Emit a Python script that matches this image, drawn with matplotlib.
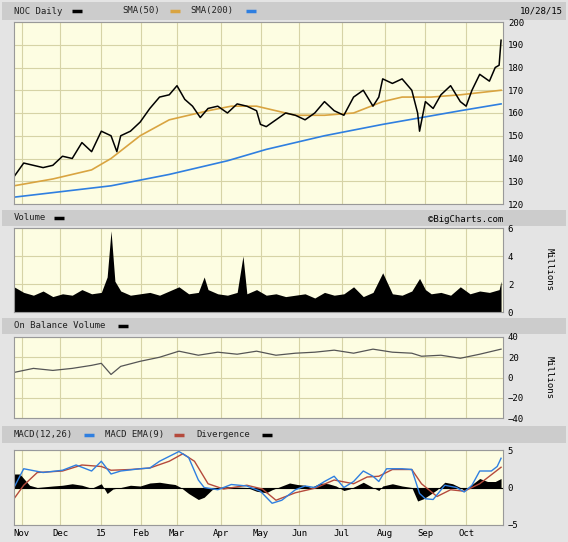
import numpy as np
import matplotlib
matplotlib.use("Agg")
import matplotlib.pyplot as plt

# ── data (x = trading-day index, Oct 29 2014 .. Oct 28 2015) ────────────────
month_pos    = [4, 23.7, 45, 65.5, 84, 106.7, 127.3, 147, 169, 191, 212, 233]
month_labels = ["Nov", "Dec", "15", "Feb", "Mar", "Apr", "May", "Jun", "Jul", "Aug", "Sep", "Oct"]

price_x = [0, 5, 10, 15, 20, 25, 30, 35, 40, 45, 50, 53, 55, 60, 65, 70, 75, 80, 84, 88,
           92, 96, 100, 105, 110, 115, 120, 125, 127, 130, 135, 140, 145, 150, 155, 160,
           165, 170, 175, 180, 185, 188, 190, 195, 200, 205, 208, 209, 212, 216, 220, 225,
           230, 233, 236, 240, 245, 248, 250, 251]
price_y = [132, 138, 137, 136, 137, 141, 140, 147, 143, 152, 150, 143, 150, 152, 156, 162,
           167, 168, 172, 166, 163, 158, 162, 163, 160, 164, 163, 161, 155, 154, 157, 160,
           159, 157, 160, 165, 161, 159, 167, 170, 163, 167, 175, 173, 175, 170, 160, 152,
           165, 162, 168, 172, 165, 163, 170, 177, 174, 180, 181, 192]

sma50_x = [0, 20, 40, 50, 65, 80, 90, 100, 112, 125, 135, 145, 160, 175, 190, 200, 215, 230, 251]
sma50_y = [128, 131, 135, 140, 150, 157, 159, 161, 163, 163, 161, 159, 159, 160, 165, 167, 167, 168, 170]
sma200_x = [0, 50, 80, 110, 130, 160, 190, 210, 230, 251]
sma200_y = [123, 128, 133, 139, 144, 150, 155, 158, 161, 164]

vol_x = [0, 5, 10, 15, 20, 25, 30, 35, 40, 45, 48, 50, 52, 55, 60, 65, 70, 75, 80, 85, 90,
         95, 98, 100, 105, 110, 115, 118, 120, 125, 130, 135, 140, 145, 150, 155, 160, 165,
         170, 175, 180, 185, 190, 195, 200, 205, 209, 212, 215, 220, 225, 230, 235, 240, 245, 250, 251]
vol_y = [1.8, 1.4, 1.2, 1.5, 1.1, 1.3, 1.2, 1.6, 1.3, 1.4, 2.5, 5.8, 2.2, 1.5, 1.2, 1.3, 1.4,
         1.2, 1.5, 1.8, 1.3, 1.4, 2.5, 1.6, 1.3, 1.2, 1.4, 4.0, 1.3, 1.6, 1.2, 1.3, 1.1, 1.2,
         1.3, 1.0, 1.4, 1.2, 1.3, 1.8, 1.1, 1.4, 2.8, 1.3, 1.2, 1.5, 2.4, 1.6, 1.3, 1.4, 1.2,
         1.8, 1.3, 1.5, 1.4, 1.6, 2.2]

obv_x = [0, 10, 20, 30, 40, 45, 50, 55, 65, 75, 85, 95, 105, 115, 125, 135, 145, 155, 165,
         175, 185, 195, 205, 210, 220, 230, 240, 251]
obv_y = [5, 9, 7, 9, 12, 14, 3, 11, 16, 20, 26, 22, 25, 23, 26, 22, 24, 25, 27, 24, 28, 25,
         24, 21, 22, 19, 23, 28]

macd_x = [0, 5, 15, 25, 32, 40, 45, 50, 55, 65, 70, 75, 85, 90, 95, 98, 105, 112, 120, 127,
          133, 138, 145, 150, 155, 160, 165, 170, 175, 180, 185, 188, 192, 200, 205, 209, 212,
          216, 222, 228, 232, 236, 240, 246, 249, 251]
macd_y = [0, 2.5, 2, 2.3, 3, 2.2, 3.5, 1.8, 2.2, 2.5, 2.6, 3.5, 4.8, 4, 1, 0, -0.3, 0.4, 0.2,
          -0.5, -2.1, -1.7, -0.3, 0.2, 0, 0.8, 1.5, 0, 0.8, 2.2, 1.5, 0.8, 2.5, 2.5, 2.4, -0.8,
          -1.5, -1.6, 0.3, 0, -0.6, 0.3, 2.2, 2.2, 2.8, 3.9]
ema_x = [0, 5, 12, 25, 35, 45, 50, 60, 70, 80, 87, 93, 100, 108, 120, 128, 135, 145, 155, 165,
         175, 182, 188, 195, 205, 210, 218, 225, 232, 240, 251]
ema_y = [-1.5, 0.3, 2, 2.2, 3, 2.8, 2.3, 2.4, 2.6, 3.5, 4.5, 3.5, 0.5, -0.2, 0.3, -0.2, -1.7,
         -0.7, -0.1, 1, 0.5, 1.4, 1.5, 2.4, 2.4, 0.5, -1.2, -0.3, -0.5, 0.5, 2.7]
div_x = [0, 3, 8, 12, 20, 25, 30, 35, 40, 45, 48, 51, 55, 60, 65, 70, 75, 80, 83, 86, 90, 95,
         98, 102, 105, 110, 120, 125, 130, 133, 137, 142, 146, 150, 153, 158, 162, 166, 170,
         173, 177, 180, 185, 188, 190, 195, 200, 205, 208, 211, 214, 218, 222, 226, 230, 232,
         236, 240, 244, 248, 251]
div_y = [1.8, 1.8, 0.3, 0, 0.2, 0.3, 0.5, 0.3, -0.1, 0.5, -0.8, -0.2, 0, 0.3, 0.2, 0.6, 0.7,
         0.5, 0.4, 0, -0.8, -1.6, -1.3, -0.3, 0, 0.1, 0, -0.5, -0.7, -0.3, 0.1, 0.6, 0.4, 0.3,
         0, 0.6, 0.5, 0.2, -0.4, -0.2, 0.3, 0.7, 0, -0.4, 0.2, 0.5, 0.2, 0, -1.8, -1.5, -1,
         -0.3, 0.7, 0.5, 0, -0.4, 0.4, 1.2, 0.8, 0.8, 1.2]

# ── styling ────────────────────────────────────────────────────────────────
W, H = 568, 542
FIG_BG = "#e4e4e4"
HDR_BG = "#cccccc"
PLOT_BG = "#fdfde2"
GRID = "#d6d3a6"
plt.rcParams["font.family"] = ["DejaVu Sans Mono"]
FS = 6.5

fig = plt.figure(figsize=(W / 100, H / 100), dpi=100, facecolor=FIG_BG)


def px_axes(x0, y0, x1, y1):
    return fig.add_axes([x0 / W, 1 - y1 / H, (x1 - x0) / W, (y1 - y0) / H])


def header(y0, y1, items):
    # items: (text x px, text, marker x px, marker colour)
    ax = px_axes(2, y0, 566, y1)
    ax.set_xlim(2, 566); ax.set_ylim(0, 1)
    ax.set_facecolor(HDR_BG)
    ax.set_xticks([]); ax.set_yticks([])
    for s in ax.spines.values():
        s.set_visible(False)
    for xpx, txt, mx, col in items:
        ax.text(xpx, 0.5, txt, fontsize=FS, va="center", ha="left", color="#222222")
        ax.plot([mx, mx + 10], [0.5, 0.5], color=col, lw=2.5, solid_capstyle="butt")
    return ax


def panel(y0, y1, ylim, yticks):
    ax = px_axes(14, y0, 503, y1)
    ax.set_facecolor(PLOT_BG)
    ax.set_xlim(0, 252)
    ax.set_ylim(*ylim)
    ax.set_xticks(month_pos)
    ax.set_xticklabels([])
    ax.tick_params(length=0, labelsize=FS)
    ax.set_yticks(yticks)
    ax.yaxis.tick_right()
    ax.grid(True, color=GRID, lw=0.8)
    ax.set_axisbelow(True)
    for s in ax.spines.values():
        s.set_color("#999999")
    return ax


# ── price ──────────────────────────────────────────────────────────────────
hdr = header(2, 20, [(14, "NOC Daily", 72, "black"), (122, "SMA(50)", 170, "#d9a441"),
                     (190, "SMA(200)", 246, "#2f7fe0")])
hdr.text(563, 0.5, "10/28/15", fontsize=FS, ha="right", va="center")
ax = panel(22, 204, (120, 200), range(120, 201, 10))
ax.plot(sma200_x, sma200_y, color="#2f7fe0", lw=1.2)
ax.plot(sma50_x, sma50_y, color="#d9a441", lw=1.2)
ax.plot(price_x, price_y, color="black", lw=1.1)

# ── volume ─────────────────────────────────────────────────────────────────
header(210, 226, [(14, "Volume", 54, "black")])
fig.text(503 / W, 1 - 219 / H, "©BigCharts.com", fontsize=FS, ha="right", va="center")
ax = panel(228, 312, (0, 6), [0, 2, 4, 6])
ax.fill_between(vol_x, 0, vol_y, color="black", lw=0)
ax.text(1.085, 0.5, "Millions", rotation=270, fontsize=FS, va="center", transform=ax.transAxes)

# ── on balance volume ──────────────────────────────────────────────────────
header(318, 334, [(14, "On Balance Volume", 118, "black")])
ax = panel(337, 418, (-40, 40), [-40, -20, 0, 20, 40])
ax.plot(obv_x, obv_y, color="#555555", lw=0.9)
ax.text(1.085, 0.5, "Millions", rotation=270, fontsize=FS, va="center", transform=ax.transAxes)

# ── MACD ───────────────────────────────────────────────────────────────────
header(426, 443, [(14, "MACD(12,26)", 84, "#2f7fe0"), (105, "MACD EMA(9)", 174, "#b54a3c"),
                  (196, "Divergence", 262, "black")])
ax = panel(450, 525, (-5, 5), [-5, 0, 5])
ax.fill_between(div_x, 0, div_y, color="black", lw=0)
ax.axhline(0, color="black", lw=0.8)
ax.plot(ema_x, ema_y, color="#b54a3c", lw=1)
ax.plot(macd_x, macd_y, color="#2f7fe0", lw=1)
ax.set_xticklabels(month_labels)
ax.tick_params(axis="x", pad=3)

fig.savefig("out.png", dpi=100, facecolor=FIG_BG)
